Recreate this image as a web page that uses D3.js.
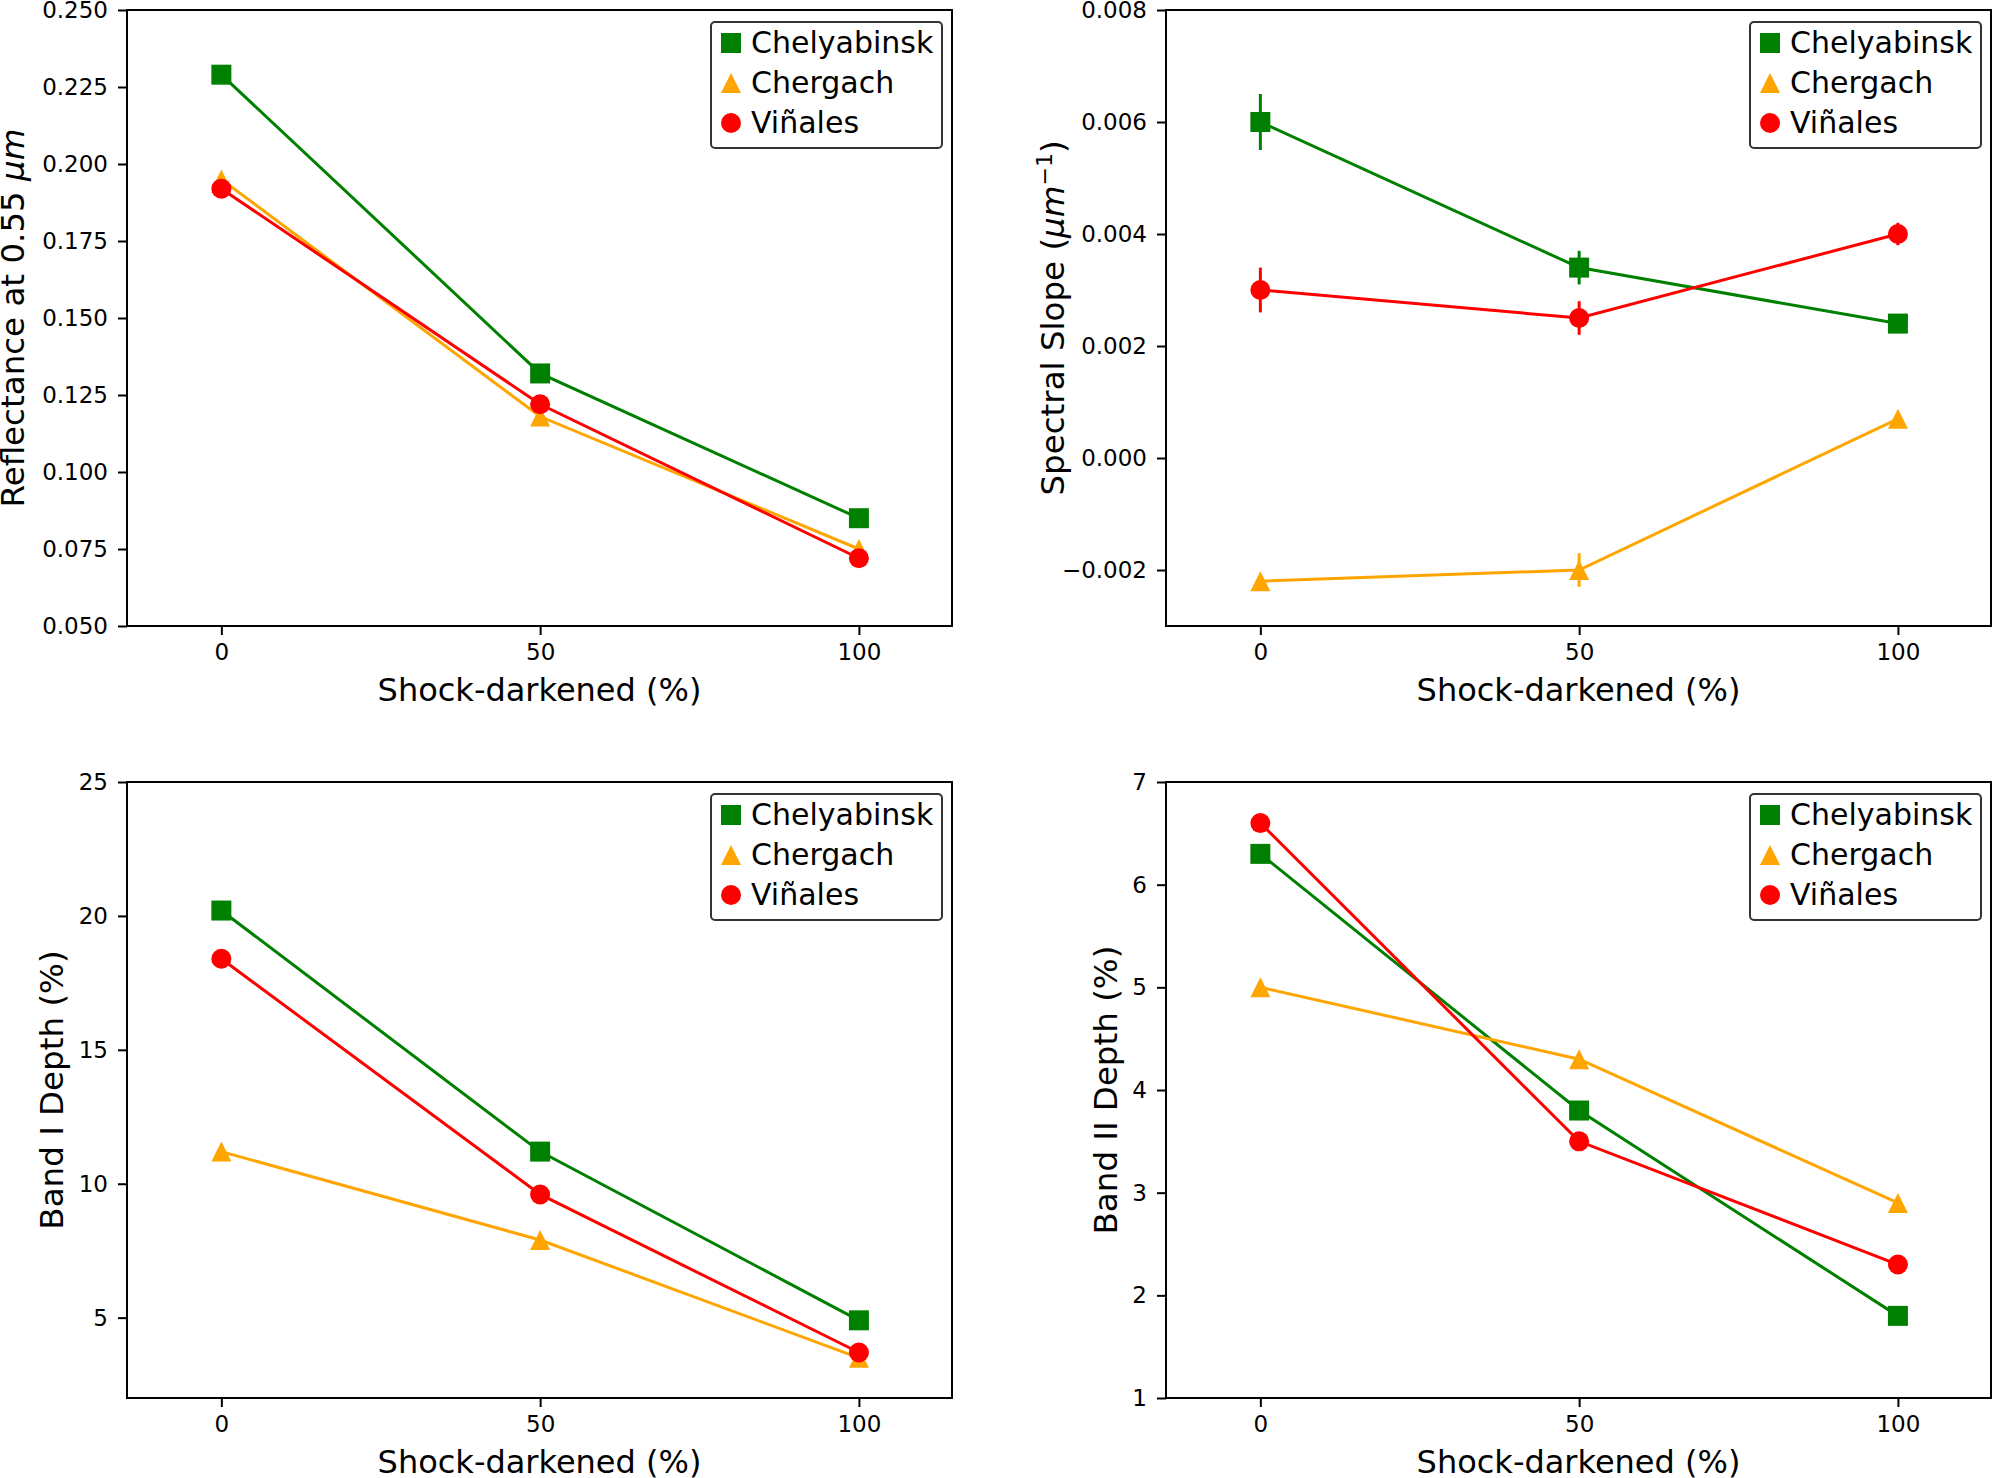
<!DOCTYPE html>
<html>
<head>
<meta charset="utf-8">
<script src="https://cdn.jsdelivr.net/npm/d3@7"></script>
<style>
  body { margin: 0; background: #fff; }
  svg { font-family: "DejaVu Sans", sans-serif; display: block; }
</style>
</head>
<body>
<script>
// x positions shared by all four panels
const SHOCK = [0, 50, 100];
const X_TICKS = [0, 50, 100];
const NAMES = ["Chelyabinsk", "Chergach", "Viñales"];

// reflectance at 0.55 um
const REFL_CHELY = [0.229, 0.132, 0.085];
const REFL_CHERG = [0.195, 0.118, 0.075];
const REFL_VINA = [0.192, 0.122, 0.072];
const REFL_TICKS = [0.050, 0.075, 0.100, 0.125, 0.150, 0.175, 0.200, 0.225, 0.250];

// spectral slope + errors
const SLOPE_CHELY = [0.0060, 0.0034, 0.0024];
const SLOPE_CHERG = [-0.0022, -0.0020, 0.0007];
const SLOPE_VINA = [0.0030, 0.0025, 0.0040];
const SLOPE_CHELY_ERR = [0.0005, 0.0003, 0.0001];
const SLOPE_CHERG_ERR = [0.0001, 0.0003, 0.0001];
const SLOPE_VINA_ERR = [0.0004, 0.0003, 0.0002];
const SLOPE_TICKS = [-0.002, 0.000, 0.002, 0.004, 0.006, 0.008];

// band I depth (%)
const B1_CHELY = [20.2, 11.2, 4.9];
const B1_CHERG = [11.2, 7.9, 3.5];
const B1_VINA = [18.4, 9.6, 3.7];
const B1_TICKS = [5, 10, 15, 20, 25];

// band II depth (%)
const B2_CHELY = [6.3, 3.8, 1.8];
const B2_CHERG = [5.0, 4.3, 2.9];
const B2_VINA = [6.6, 3.5, 2.3];
const B2_TICKS = [1, 2, 3, 4, 5, 6, 7];

const W = 825, H = 616;
const COLORS = ["#008000", "#ffa500", "#ff0000"];
const MS = 20;

// matplotlib-like marker shapes
const mSquare = {draw(c, s){ const r = Math.sqrt(s)/2; c.rect(-r, -r, 2*r, 2*r); }};
const mTriangle = {draw(c, s){ const r = Math.sqrt(s)/2; c.moveTo(0, -r); c.lineTo(r, r); c.lineTo(-r, r); c.closePath(); }};
const mCircle = {draw(c, s){ const r = Math.sqrt(s)/2; c.moveTo(r, 0); c.arc(0, 0, r, 0, 2*Math.PI); }};
const MARKERS = [mSquare, mTriangle, mCircle];

const PANELS = [
  {left: 127, top: 10, labelX: 24, domain: [0.05, 0.25], ticks: REFL_TICKS, fmt: d3.format(".3f"),
   values: [REFL_CHELY, REFL_CHERG, REFL_VINA], errors: null,
   label: [{t: "Reflectance at 0.55 "}, {t: "μm", italic: true}]},
  {left: 1166, top: 10, labelX: 1064, domain: [-0.003, 0.008], ticks: SLOPE_TICKS, fmt: d3.format(".3f"),
   values: [SLOPE_CHELY, SLOPE_CHERG, SLOPE_VINA], errors: [SLOPE_CHELY_ERR, SLOPE_CHERG_ERR, SLOPE_VINA_ERR],
   label: [{t: "Spectral Slope ("}, {t: "μm", italic: true}, {t: "−1", sup: true}, {t: ")", unsup: true}]},
  {left: 127, top: 782, labelX: 63, domain: [2, 25], ticks: B1_TICKS, fmt: d3.format("d"),
   values: [B1_CHELY, B1_CHERG, B1_VINA], errors: null,
   label: [{t: "Band I Depth (%)"}]},
  {left: 1166, top: 782, labelX: 1117, domain: [1, 7], ticks: B2_TICKS, fmt: d3.format("d"),
   values: [B2_CHELY, B2_CHERG, B2_VINA], errors: null,
   label: [{t: "Band II Depth (%)"}]}
];

const svg = d3.select("body").append("svg")
    .attr("width", 1996)
    .attr("height", 1478);

svg.append("rect").attr("width", 1996).attr("height", 1478).attr("fill", "#fff");

const x = d3.scaleLinear().domain([-14.8, 114.6]).range([0, W]);

PANELS.forEach(p => {
  const y = d3.scaleLinear().domain(p.domain).range([H, 0]);
  const g = svg.append("g").attr("transform", `translate(${p.left},${p.top})`);

  const gx = g.append("g")
      .attr("transform", `translate(0,${H})`)
      .call(d3.axisBottom(x).tickValues(X_TICKS).tickSize(9).tickPadding(9).tickSizeOuter(0));
  const gy = g.append("g")
      .call(d3.axisLeft(y).tickValues(p.ticks).tickFormat(p.fmt).tickSize(9).tickPadding(10).tickSizeOuter(0));
  [gx, gy].forEach(a => {
    a.select(".domain").remove();
    a.selectAll("line").attr("stroke", "#000").attr("stroke-width", 2);
    a.selectAll("text").attr("fill", "#000").style("font-size", "23px").style("font-family", "DejaVu Sans");
  });

  // series: error bars, line, markers
  p.values.forEach((vals, i) => {
    const pts = vals.map((v, j) => ({x: SHOCK[j], y: v, e: p.errors ? p.errors[i][j] : 0}));
    const sg = g.append("g");
    if (p.errors) {
      sg.selectAll(".err").data(pts).enter().append("line")
          .attr("x1", d => x(d.x)).attr("x2", d => x(d.x))
          .attr("y1", d => y(d.y - d.e)).attr("y2", d => y(d.y + d.e))
          .attr("stroke", COLORS[i]).attr("stroke-width", 3);
    }
    sg.append("path")
        .datum(pts)
        .attr("fill", "none")
        .attr("stroke", COLORS[i])
        .attr("stroke-width", 3)
        .attr("d", d3.line().x(d => x(d.x)).y(d => y(d.y)));
    sg.selectAll(".mk").data(pts).enter().append("path")
        .attr("transform", d => `translate(${x(d.x)},${y(d.y)})`)
        .attr("fill", COLORS[i])
        .attr("d", d3.symbol().type(MARKERS[i]).size(MS * MS));
  });

  // frame
  g.append("rect").attr("width", W).attr("height", H)
      .attr("fill", "none").attr("stroke", "#000").attr("stroke-width", 2);

  // legend
  const lg = g.append("g").attr("transform", `translate(${W - 10 - 231},12)`);
  lg.append("rect").attr("width", 231).attr("height", 126).attr("rx", 4)
      .attr("fill", "#fff").attr("fill-opacity", 0.8)
      .attr("stroke", "#333").attr("stroke-width", 2);
  NAMES.forEach((n, i) => {
    lg.append("path")
        .attr("transform", `translate(20,${21 + i * 40})`)
        .attr("fill", COLORS[i])
        .attr("d", d3.symbol().type(MARKERS[i]).size(MS * MS));
    lg.append("text")
        .attr("x", 40).attr("y", 21 + i * 40 + 10)
        .style("font-size", "30px")
        .text(n);
  });

  // axis labels
  g.append("text")
      .attr("x", W / 2).attr("y", H + 75)
      .attr("text-anchor", "middle")
      .style("font-size", "32px")
      .text("Shock-darkened (%)");

  const yl = svg.append("text")
      .attr("transform", `translate(${p.labelX},${p.top + H / 2}) rotate(-90)`)
      .attr("text-anchor", "middle")
      .style("font-size", "32.5px");
  p.label.forEach(s => {
    const ts = yl.append("tspan").text(s.t);
    if (s.italic) ts.style("font-style", "italic");
    if (s.sup) ts.style("font-size", "22px").attr("dy", "-12");
    if (s.unsup) ts.attr("dy", "12");
  });
});
</script>
</body>
</html>
